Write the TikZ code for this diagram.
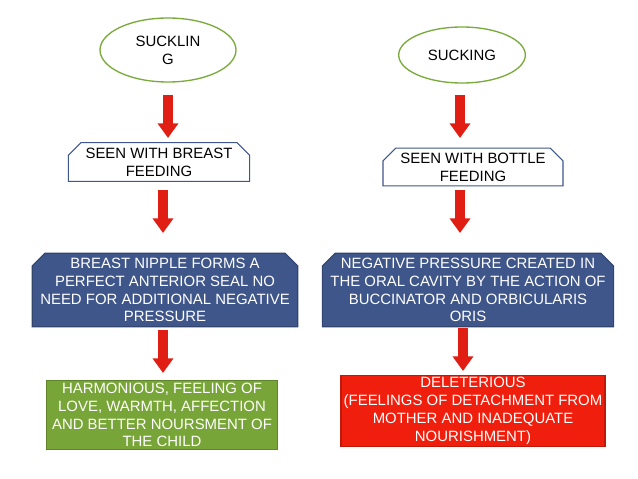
\documentclass[tikz,border=0pt]{standalone}
\usepackage{fontspec}
\setmainfont{Liberation Sans}
\usetikzlibrary{shapes.geometric,shapes.misc,arrows.meta}
\definecolor{ovalgreen}{RGB}{122,170,60}
\definecolor{boxblue}{RGB}{63,86,138}
\definecolor{boxgreen}{RGB}{120,165,55}
\definecolor{boxred}{RGB}{240,30,12}
\definecolor{arrred}{RGB}{225,30,20}
\tikzset{
  oval/.style={ellipse,draw=ovalgreen,line width=1pt,fill=white,align=center},
  snip/.style={chamfered rectangle,chamfered rectangle corners={north west,north east},
    chamfered rectangle xsep=6pt,align=center,inner sep=0pt,line width=0.8pt},
  plain/.style={draw=boxred,line width=0.8pt,align=center,inner sep=0pt},
  downarr/.style={line width=7.5pt,draw=arrred,-{Triangle[width=15pt,length=11pt]}}
}
\begin{document}
\begin{tikzpicture}[x=0.75pt,y=-0.75pt,font=\fontsize{11.2}{13.4}\selectfont]
  \useasboundingbox (0,0) rectangle (638,478);

  % Ovals
  \node[oval,minimum width=102pt,minimum height=48pt] (suckling) at (168,50) {SUCKLIN\\G};
  \node[oval,minimum width=95pt,minimum height=42pt] (sucking) at (462,55) {SUCKING};

  % First row of boxes
  \node[snip,draw=boxblue,fill=white,minimum width=136pt,minimum height=29pt] (breast) at (159,162)
    {SEEN WITH BREAST\\FEEDING};
  \node[snip,draw=boxblue,fill=white,minimum width=135pt,minimum height=28pt] (bottle) at (473,167)
    {SEEN WITH BOTTLE\\FEEDING};

  % Second row of boxes
  \node[snip,draw=boxblue!80!black,fill=boxblue,text=white,minimum width=199pt,minimum height=52pt] (seal) at (165,290)
    {BREAST NIPPLE FORMS A\\PERFECT ANTERIOR SEAL NO\\NEED FOR ADDITIONAL NEGATIVE\\PRESSURE};
  \node[snip,draw=boxblue!80!black,fill=boxblue,text=white,minimum width=215pt,minimum height=52pt] (pressure) at (468,290)
    {NEGATIVE PRESSURE CREATED IN\\THE ORAL CAVITY BY THE ACTION OF\\BUCCINATOR AND ORBICULARIS\\ORIS};

  % Third row of boxes
  \node[plain,draw=boxgreen!80!black,fill=boxgreen,text=white,minimum width=173pt,minimum height=52pt] (harmony) at (162,415)
    {HARMONIOUS, FEELING OF\\LOVE, WARMTH, AFFECTION\\AND BETTER NOURSMENT OF\\THE CHILD};
  \node[plain,draw=boxred!80!black,fill=boxred,text=white,minimum width=198pt,minimum height=53pt] (harm) at (473,411)
    {DELETERIOUS\\(FEELINGS OF DETACHMENT FROM\\MOTHER AND INADEQUATE\\NOURISHMENT)};

  % Arrows
  \coordinate (a1s) at (168,95);  \coordinate (a1e) at (168,138);
  \coordinate (a2s) at (460,95);  \coordinate (a2e) at (460,138);
  \coordinate (a3s) at (163,190); \coordinate (a3e) at (163,233);
  \coordinate (a4s) at (460,190); \coordinate (a4e) at (460,233);
  \coordinate (a5s) at (163,330); \coordinate (a5e) at (163,373);
  \coordinate (a6s) at (463,328); \coordinate (a6e) at (463,371);
  \foreach \i in {1,...,6}
    \draw[downarr] (a\i s) -- (a\i e);

\end{tikzpicture}
\end{document}
